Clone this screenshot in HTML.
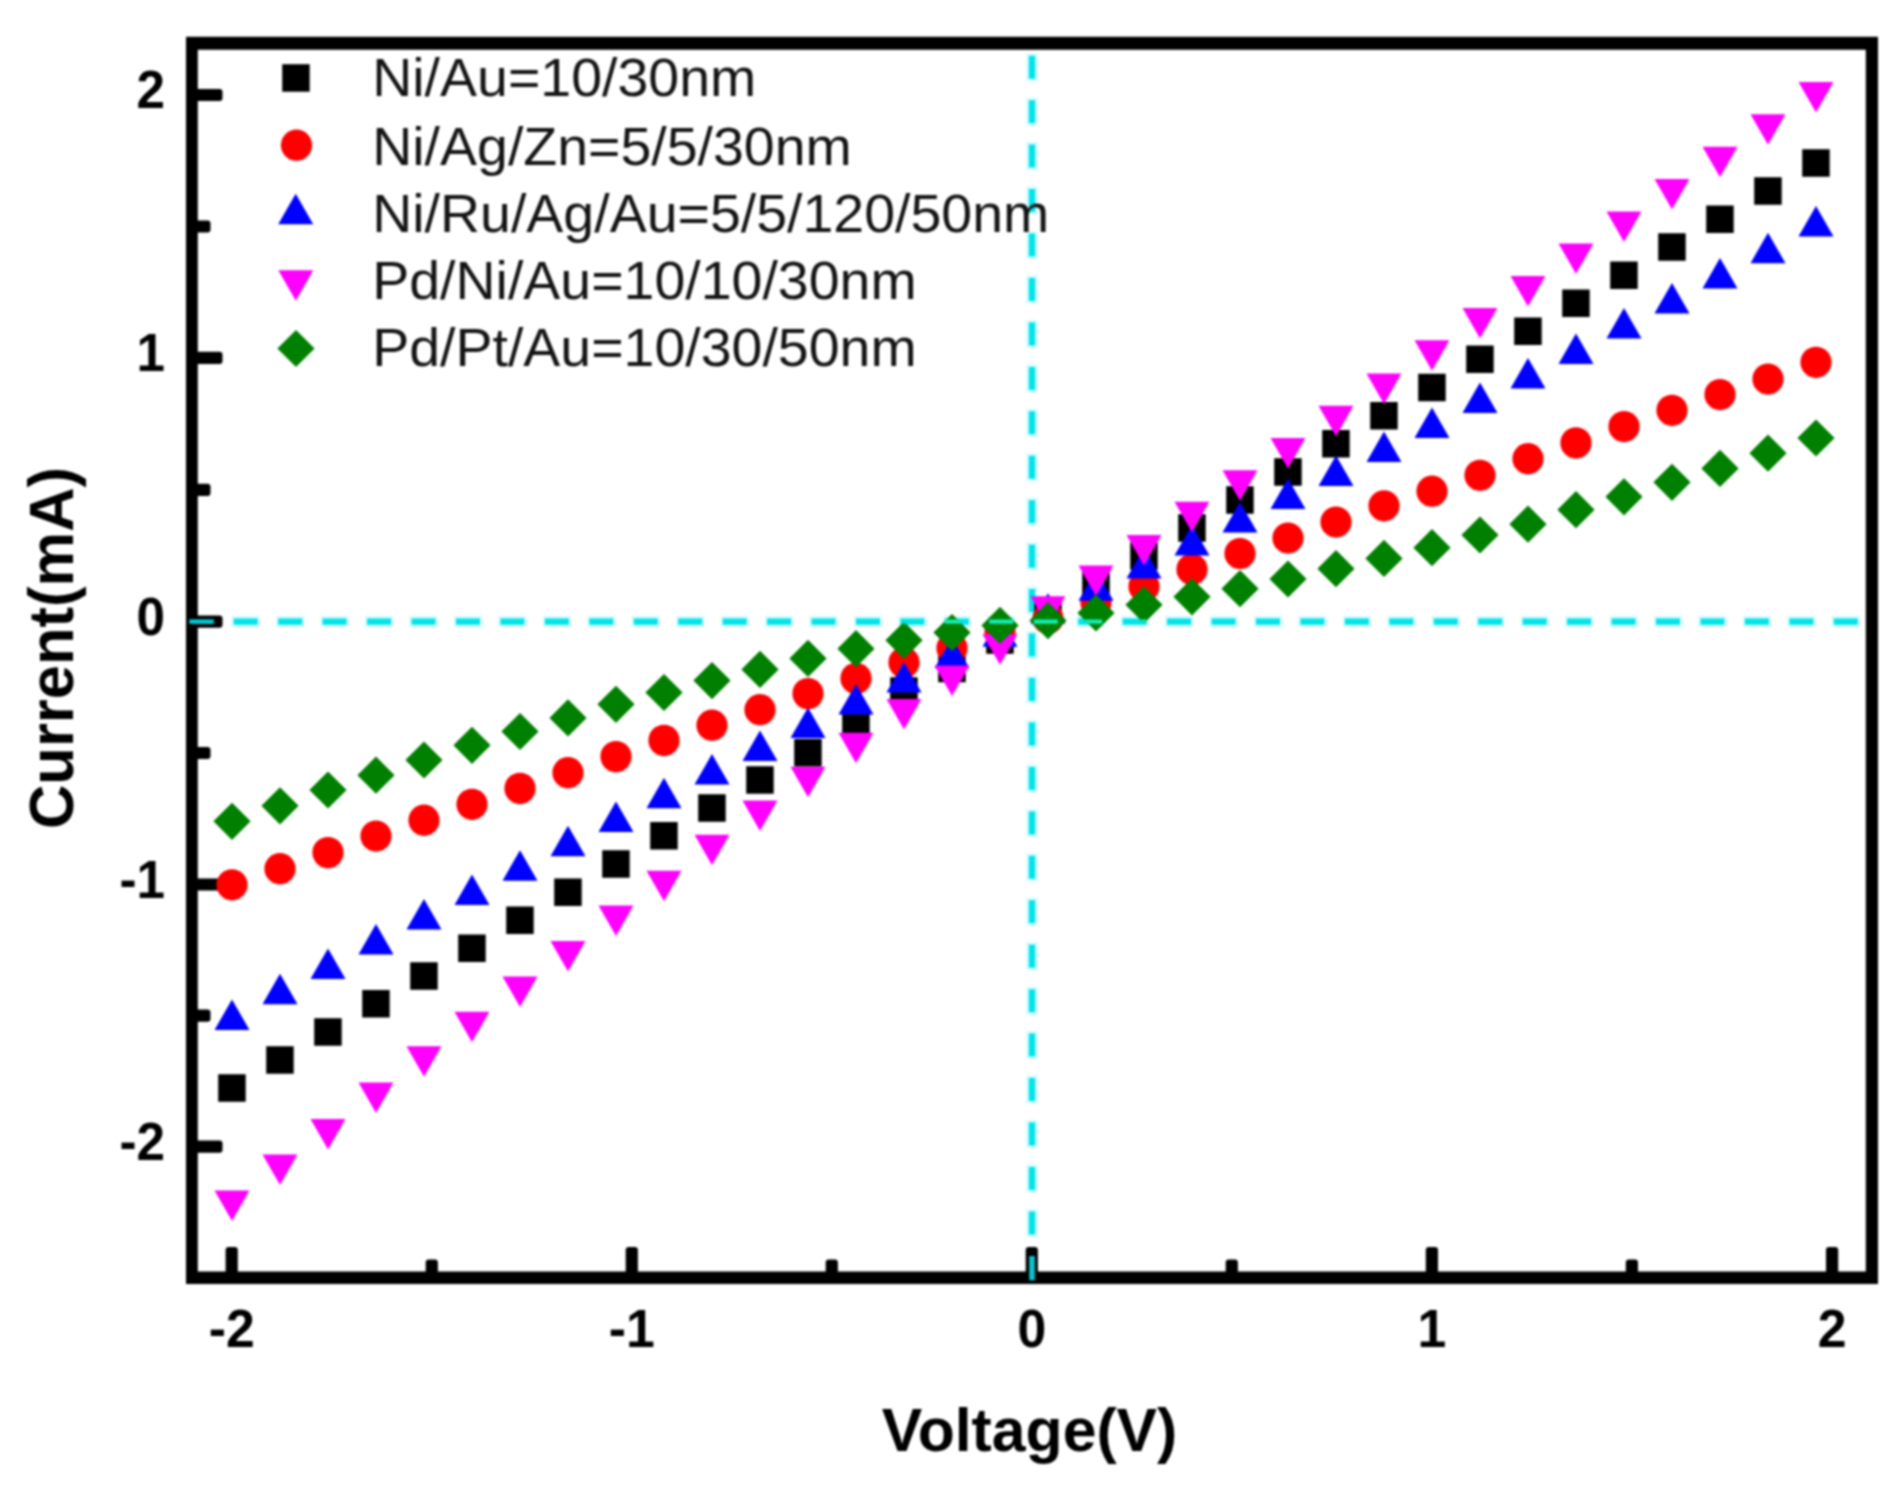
<!DOCTYPE html>
<html lang="en"><head><meta charset="utf-8"><title>I-V characteristics</title>
<style>
html,body{margin:0;padding:0;background:#fff}
body{width:1904px;height:1488px;overflow:hidden}
svg{display:block;filter:blur(0.8px)}
text{font-family:"Liberation Sans",sans-serif}
.b{font-weight:bold;fill:#000}
.tk{font-size:54.5px}
.ti{font-size:60.7px}
.ty{font-size:61.5px}
.lg{font-size:54.3px;fill:#141414}
</style></head><body>
<svg width="1904" height="1488" viewBox="0 0 1904 1488">
<rect width="1904" height="1488" fill="#fff"/>
<path fill="#000" d="M186 36.7H1878V1284H186zM197.8 49.8V1271.6H1865.8V49.8z" fill-rule="evenodd"/>
<g fill="#000"><rect x="192" y="88.9" width="30.5" height="12.2" rx="3"/><rect x="192" y="351.8" width="30.5" height="12.2" rx="3"/><rect x="192" y="615.5" width="30.5" height="12.2" rx="3"/><rect x="192" y="878.4" width="30.5" height="12.2" rx="3"/><rect x="192" y="1140.6" width="30.5" height="12.2" rx="3"/><rect x="192" y="220.4" width="18.5" height="12.2" rx="3"/><rect x="192" y="483.7" width="18.5" height="12.2" rx="3"/><rect x="192" y="746.9" width="18.5" height="12.2" rx="3"/><rect x="192" y="1009.5" width="18.5" height="12.2" rx="3"/><rect x="225.6" y="1247" width="12.2" height="30" rx="3"/><rect x="625.7" y="1247" width="12.2" height="30" rx="3"/><rect x="1025.7" y="1247" width="12.2" height="30" rx="3"/><rect x="1425.8" y="1247" width="12.2" height="30" rx="3"/><rect x="1826" y="1247" width="12.2" height="30" rx="3"/><rect x="425.7" y="1259.5" width="12.2" height="18" rx="3"/><rect x="825.7" y="1259.5" width="12.2" height="18" rx="3"/><rect x="1225.7" y="1259.5" width="12.2" height="18" rx="3"/><rect x="1625.8" y="1259.5" width="12.2" height="18" rx="3"/></g>
<path d="M1032 53.2v28M1032 97.7v28M1032 142.1v28M1032 186.6v28M1032 231v28M1032 275.4v28M1032 319.9v28M1032 364.4v28M1032 408.8v28M1032 453.2v28M1032 497.7v28M1032 542.2v28M1032 586.6v28M1032 631.1v28M1032 675.5v28M1032 720v28M1032 764.4v28M1032 808.9v28M1032 853.3v28M1032 897.8v28M1032 942.2v28M1032 986.7v28M1032 1031.1v28M1032 1075.5v28M1032 1120v28M1032 1164.5v28M1032 1208.9v28" stroke="#d2fcfd" stroke-width="11.5" fill="none"/>
<path d="M1032 55.7v23M1032 100.2v23M1032 144.6v23M1032 189.1v23M1032 233.5v23M1032 277.9v23M1032 322.4v23M1032 366.9v23M1032 411.3v23M1032 455.8v23M1032 500.2v23M1032 544.7v23M1032 589.1v23M1032 633.6v23M1032 678v23M1032 722.5v23M1032 766.9v23M1032 811.4v23M1032 855.8v23M1032 900.3v23M1032 944.7v23M1032 989.2v23M1032 1033.6v23M1032 1078v23M1032 1122.5v23M1032 1167v23M1032 1211.4v23" stroke="#00e4ea" stroke-width="6.3" fill="none"/>
<path d="M189.3 621.6h24.5" stroke="#00c8d4" stroke-width="4.6" fill="none"/>
<path d="M231.7 621.6h28M276.2 621.6h28M320.6 621.6h28M365.1 621.6h28M409.5 621.6h28M454 621.6h28M498.4 621.6h28M542.9 621.6h28M587.3 621.6h28M631.8 621.6h28M676.2 621.6h28M720.7 621.6h28M765.1 621.6h28M809.5 621.6h28M854 621.6h28M898.4 621.6h28M942.9 621.6h28M987.3 621.6h28M1031.8 621.6h28M1076.2 621.6h28M1120.7 621.6h28M1165.1 621.6h28M1209.6 621.6h28M1254 621.6h28M1298.4 621.6h28M1342.9 621.6h28M1387.3 621.6h28M1431.8 621.6h28M1476.2 621.6h28M1520.7 621.6h28M1565.1 621.6h28M1609.6 621.6h28M1654 621.6h28M1698.5 621.6h28M1742.9 621.6h28M1787.4 621.6h28M1831.8 621.6h28" stroke="#d2fcfd" stroke-width="11.5" fill="none"/>
<path d="M233.7 621.6h24M278.2 621.6h24M322.6 621.6h24M367.1 621.6h24M411.5 621.6h24M456 621.6h24M500.4 621.6h24M544.9 621.6h24M589.3 621.6h24M633.8 621.6h24M678.2 621.6h24M722.7 621.6h24M767.1 621.6h24M811.5 621.6h24M856 621.6h24M900.4 621.6h24M944.9 621.6h24M989.3 621.6h24M1033.8 621.6h24M1078.2 621.6h24M1122.7 621.6h24M1167.1 621.6h24M1211.6 621.6h24M1256 621.6h24M1300.4 621.6h24M1344.9 621.6h24M1389.3 621.6h24M1433.8 621.6h24M1478.2 621.6h24M1522.7 621.6h24M1567.1 621.6h24M1611.6 621.6h24M1656 621.6h24M1700.5 621.6h24M1744.9 621.6h24M1789.4 621.6h24M1833.8 621.6h24" stroke="#00e4ea" stroke-width="6.3" fill="none"/>
<path fill="#000" d="M218.2 1074.2h27.5v27.5h-27.5zM266.2 1046.2h27.5v27.5h-27.5zM314.2 1018.2h27.5v27.5h-27.5zM362.2 990h27.5v27.5h-27.5zM410.2 962.2h27.5v27.5h-27.5zM458.2 934.5h27.5v27.5h-27.5zM506.2 906.5h27.5v27.5h-27.5zM554.2 878.5h27.5v27.5h-27.5zM602.2 850.2h27.5v27.5h-27.5zM650.2 822h27.5v27.5h-27.5zM698.2 794.2h27.5v27.5h-27.5zM746.2 766.2h27.5v27.5h-27.5zM794.2 738.9h27.5v27.5h-27.5zM842.2 711.2h27.5v27.5h-27.5zM890.2 677.2h27.5v27.5h-27.5zM938.2 654.8h27.5v27.5h-27.5zM986.2 626.2h27.5v27.5h-27.5zM1034.2 598.2h27.5v27.5h-27.5zM1082.2 570.2h27.5v27.5h-27.5zM1130.2 542.2h27.5v27.5h-27.5zM1178.2 514.2h27.5v27.5h-27.5zM1226.2 486.2h27.5v27.5h-27.5zM1274.2 458.2h27.5v27.5h-27.5zM1322.2 430.1h27.5v27.5h-27.5zM1370.2 402.1h27.5v27.5h-27.5zM1418.2 373.8h27.5v27.5h-27.5zM1466.2 345.6h27.5v27.5h-27.5zM1514.2 317.6h27.5v27.5h-27.5zM1562.2 289.4h27.5v27.5h-27.5zM1610.2 261.4h27.5v27.5h-27.5zM1658.2 233.3h27.5v27.5h-27.5zM1706.2 205.6h27.5v27.5h-27.5zM1754.2 177.2h27.5v27.5h-27.5zM1802.2 149.2h27.5v27.5h-27.5z"/>
<g fill="#f00"><circle cx="232" cy="884.8" r="15.6"/><circle cx="280" cy="868.7" r="15.6"/><circle cx="328" cy="852.6" r="15.6"/><circle cx="376" cy="836" r="15.6"/><circle cx="424" cy="820.2" r="15.6"/><circle cx="472" cy="804.3" r="15.6"/><circle cx="520" cy="788.4" r="15.6"/><circle cx="568" cy="772.7" r="15.6"/><circle cx="616" cy="756.6" r="15.6"/><circle cx="664" cy="740.4" r="15.6"/><circle cx="712" cy="725.2" r="15.6"/><circle cx="760" cy="709.7" r="15.6"/><circle cx="808" cy="693.6" r="15.6"/><circle cx="856" cy="678.4" r="15.6"/><circle cx="904" cy="662.6" r="15.6"/><circle cx="952" cy="648" r="15.6"/><circle cx="1000" cy="632" r="15.6"/><circle cx="1048" cy="618.5" r="15.6"/><circle cx="1096" cy="602.5" r="15.6"/><circle cx="1144" cy="586.5" r="15.6"/><circle cx="1192" cy="569.4" r="15.6"/><circle cx="1240" cy="553.5" r="15.6"/><circle cx="1288" cy="538" r="15.6"/><circle cx="1336" cy="522" r="15.6"/><circle cx="1384" cy="505.8" r="15.6"/><circle cx="1432" cy="491.2" r="15.6"/><circle cx="1480" cy="475.3" r="15.6"/><circle cx="1528" cy="458.7" r="15.6"/><circle cx="1576" cy="442.9" r="15.6"/><circle cx="1624" cy="426.5" r="15.6"/><circle cx="1672" cy="410.3" r="15.6"/><circle cx="1720" cy="394.5" r="15.6"/><circle cx="1768" cy="379" r="15.6"/><circle cx="1816" cy="362.3" r="15.6"/></g>
<path fill="#00f" d="M232 999.5l17.5 30.5h-35zM280 973.8l17.5 30.5h-35zM328 948.6l17.5 30.5h-35zM376 924l17.5 30.5h-35zM424 899l17.5 30.5h-35zM472 874.5l17.5 30.5h-35zM520 850.2l17.5 30.5h-35zM568 825.8l17.5 30.5h-35zM616 801.5l17.5 30.5h-35zM664 777.8l17.5 30.5h-35zM712 754.1l17.5 30.5h-35zM760 730.5l17.5 30.5h-35zM808 707.4l17.5 30.5h-35zM856 684.1l17.5 30.5h-35zM904 661.9l17.5 30.5h-35zM952 637.8l17.5 30.5h-35zM1000 616.2l17.5 30.5h-35zM1048 593.2l17.5 30.5h-35zM1096 570.2l17.5 30.5h-35zM1144 548l17.5 30.5h-35zM1192 525l17.5 30.5h-35zM1240 502.1l17.5 30.5h-35zM1288 478.4l17.5 30.5h-35zM1336 455.4l17.5 30.5h-35zM1384 431.6l17.5 30.5h-35zM1432 407.4l17.5 30.5h-35zM1480 382.6l17.5 30.5h-35zM1528 357.9l17.5 30.5h-35zM1576 333.4l17.5 30.5h-35zM1624 307.9l17.5 30.5h-35zM1672 283.1l17.5 30.5h-35zM1720 257.9l17.5 30.5h-35zM1768 232.8l17.5 30.5h-35zM1816 206.1l17.5 30.5h-35z"/>
<path fill="#f0f" d="M232 1221l17.5 -30.5h-35zM280 1185l17.5 -30.5h-35zM328 1149.5l17.5 -30.5h-35zM376 1113l17.5 -30.5h-35zM424 1076.8l17.5 -30.5h-35zM472 1042.3l17.5 -30.5h-35zM520 1006.9l17.5 -30.5h-35zM568 971.4l17.5 -30.5h-35zM616 935.9l17.5 -30.5h-35zM664 901.2l17.5 -30.5h-35zM712 865.2l17.5 -30.5h-35zM760 831l17.5 -30.5h-35zM808 797.2l17.5 -30.5h-35zM856 763.2l17.5 -30.5h-35zM904 729.5l17.5 -30.5h-35zM952 696l17.5 -30.5h-35zM1000 664.8l17.5 -30.5h-35zM1048 626.8l17.5 -30.5h-35zM1096 596l17.5 -30.5h-35zM1144 565.5l17.5 -30.5h-35zM1192 532.2l17.5 -30.5h-35zM1240 500.8l17.5 -30.5h-35zM1288 468.4l17.5 -30.5h-35zM1336 436.2l17.5 -30.5h-35zM1384 403.9l17.5 -30.5h-35zM1432 370.8l17.5 -30.5h-35zM1480 338.6l17.5 -30.5h-35zM1528 306.6l17.5 -30.5h-35zM1576 273.9l17.5 -30.5h-35zM1624 242.1l17.5 -30.5h-35zM1672 209.4l17.5 -30.5h-35zM1720 177.2l17.5 -30.5h-35zM1768 144.7l17.5 -30.5h-35zM1816 112.5l17.5 -30.5h-35z"/>
<path fill="#008000" d="M232 802.7l18.6 18.6l-18.6 18.6l-18.6 -18.6zM280 787.2l18.6 18.6l-18.6 18.6l-18.6 -18.6zM328 771.4l18.6 18.6l-18.6 18.6l-18.6 -18.6zM376 756.6l18.6 18.6l-18.6 18.6l-18.6 -18.6zM424 741.4l18.6 18.6l-18.6 18.6l-18.6 -18.6zM472 726.7l18.6 18.6l-18.6 18.6l-18.6 -18.6zM520 712.9l18.6 18.6l-18.6 18.6l-18.6 -18.6zM568 699.3l18.6 18.6l-18.6 18.6l-18.6 -18.6zM616 685.7l18.6 18.6l-18.6 18.6l-18.6 -18.6zM664 673.9l18.6 18.6l-18.6 18.6l-18.6 -18.6zM712 662l18.6 18.6l-18.6 18.6l-18.6 -18.6zM760 650.8l18.6 18.6l-18.6 18.6l-18.6 -18.6zM808 639.8l18.6 18.6l-18.6 18.6l-18.6 -18.6zM856 630.1l18.6 18.6l-18.6 18.6l-18.6 -18.6zM904 621.7l18.6 18.6l-18.6 18.6l-18.6 -18.6zM952 614l18.6 18.6l-18.6 18.6l-18.6 -18.6zM1000 606.8l18.6 18.6l-18.6 18.6l-18.6 -18.6zM1048 602l18.6 18.6l-18.6 18.6l-18.6 -18.6zM1096 594.4l18.6 18.6l-18.6 18.6l-18.6 -18.6zM1144 586.2l18.6 18.6l-18.6 18.6l-18.6 -18.6zM1192 578.2l18.6 18.6l-18.6 18.6l-18.6 -18.6zM1240 570.1l18.6 18.6l-18.6 18.6l-18.6 -18.6zM1288 560.4l18.6 18.6l-18.6 18.6l-18.6 -18.6zM1336 550.1l18.6 18.6l-18.6 18.6l-18.6 -18.6zM1384 539.8l18.6 18.6l-18.6 18.6l-18.6 -18.6zM1432 529.1l18.6 18.6l-18.6 18.6l-18.6 -18.6zM1480 516.4l18.6 18.6l-18.6 18.6l-18.6 -18.6zM1528 505.6l18.6 18.6l-18.6 18.6l-18.6 -18.6zM1576 491.1l18.6 18.6l-18.6 18.6l-18.6 -18.6zM1624 478.2l18.6 18.6l-18.6 18.6l-18.6 -18.6zM1672 463.7l18.6 18.6l-18.6 18.6l-18.6 -18.6zM1720 449.8l18.6 18.6l-18.6 18.6l-18.6 -18.6zM1768 434.6l18.6 18.6l-18.6 18.6l-18.6 -18.6zM1816 419.4l18.6 18.6l-18.6 18.6l-18.6 -18.6z"/>
<clipPath id="gd"><path d="M232 802.7l18.6 18.6l-18.6 18.6l-18.6 -18.6zM280 787.2l18.6 18.6l-18.6 18.6l-18.6 -18.6zM328 771.4l18.6 18.6l-18.6 18.6l-18.6 -18.6zM376 756.6l18.6 18.6l-18.6 18.6l-18.6 -18.6zM424 741.4l18.6 18.6l-18.6 18.6l-18.6 -18.6zM472 726.7l18.6 18.6l-18.6 18.6l-18.6 -18.6zM520 712.9l18.6 18.6l-18.6 18.6l-18.6 -18.6zM568 699.3l18.6 18.6l-18.6 18.6l-18.6 -18.6zM616 685.7l18.6 18.6l-18.6 18.6l-18.6 -18.6zM664 673.9l18.6 18.6l-18.6 18.6l-18.6 -18.6zM712 662l18.6 18.6l-18.6 18.6l-18.6 -18.6zM760 650.8l18.6 18.6l-18.6 18.6l-18.6 -18.6zM808 639.8l18.6 18.6l-18.6 18.6l-18.6 -18.6zM856 630.1l18.6 18.6l-18.6 18.6l-18.6 -18.6zM904 621.7l18.6 18.6l-18.6 18.6l-18.6 -18.6zM952 614l18.6 18.6l-18.6 18.6l-18.6 -18.6zM1000 606.8l18.6 18.6l-18.6 18.6l-18.6 -18.6zM1048 602l18.6 18.6l-18.6 18.6l-18.6 -18.6zM1096 594.4l18.6 18.6l-18.6 18.6l-18.6 -18.6zM1144 586.2l18.6 18.6l-18.6 18.6l-18.6 -18.6zM1192 578.2l18.6 18.6l-18.6 18.6l-18.6 -18.6zM1240 570.1l18.6 18.6l-18.6 18.6l-18.6 -18.6zM1288 560.4l18.6 18.6l-18.6 18.6l-18.6 -18.6zM1336 550.1l18.6 18.6l-18.6 18.6l-18.6 -18.6zM1384 539.8l18.6 18.6l-18.6 18.6l-18.6 -18.6zM1432 529.1l18.6 18.6l-18.6 18.6l-18.6 -18.6zM1480 516.4l18.6 18.6l-18.6 18.6l-18.6 -18.6zM1528 505.6l18.6 18.6l-18.6 18.6l-18.6 -18.6zM1576 491.1l18.6 18.6l-18.6 18.6l-18.6 -18.6zM1624 478.2l18.6 18.6l-18.6 18.6l-18.6 -18.6zM1672 463.7l18.6 18.6l-18.6 18.6l-18.6 -18.6zM1720 449.8l18.6 18.6l-18.6 18.6l-18.6 -18.6zM1768 434.6l18.6 18.6l-18.6 18.6l-18.6 -18.6zM1816 419.4l18.6 18.6l-18.6 18.6l-18.6 -18.6z"/></clipPath>
<path d="M233.7 621.6h24M278.2 621.6h24M322.6 621.6h24M367.1 621.6h24M411.5 621.6h24M456 621.6h24M500.4 621.6h24M544.9 621.6h24M589.3 621.6h24M633.8 621.6h24M678.2 621.6h24M722.7 621.6h24M767.1 621.6h24M811.5 621.6h24M856 621.6h24M900.4 621.6h24M944.9 621.6h24M989.3 621.6h24M1033.8 621.6h24M1078.2 621.6h24M1122.7 621.6h24M1167.1 621.6h24M1211.6 621.6h24M1256 621.6h24M1300.4 621.6h24M1344.9 621.6h24M1389.3 621.6h24M1433.8 621.6h24M1478.2 621.6h24M1522.7 621.6h24M1567.1 621.6h24M1611.6 621.6h24M1656 621.6h24M1700.5 621.6h24M1744.9 621.6h24M1789.4 621.6h24M1833.8 621.6h24" stroke="#14eeb4" stroke-width="4.2" fill="none" clip-path="url(#gd)"/>
<path d="M1032 1256v24.3" stroke="#0cc2ce" stroke-width="5.6" fill="none"/>
<text class="b tk" transform="translate(165 108) scale(0.94 1)" text-anchor="end">2</text>
<text class="b tk" transform="translate(165 370.9) scale(0.94 1)" text-anchor="end">1</text>
<text class="b tk" transform="translate(165 634.6) scale(0.94 1)" text-anchor="end">0</text>
<text class="b tk" transform="translate(165 897.5) scale(0.94 1)" text-anchor="end">-1</text>
<text class="b tk" transform="translate(165 1159.7) scale(0.94 1)" text-anchor="end">-2</text>
<text class="b tk" transform="translate(231.7 1347) scale(0.95 1)" text-anchor="middle">-2</text>
<text class="b tk" transform="translate(631.8 1347) scale(0.95 1)" text-anchor="middle">-1</text>
<text class="b tk" transform="translate(1031.8 1347) scale(0.95 1)" text-anchor="middle">0</text>
<text class="b tk" transform="translate(1431.9 1347) scale(0.95 1)" text-anchor="middle">1</text>
<text class="b tk" transform="translate(1832.1 1347) scale(0.95 1)" text-anchor="middle">2</text>
<text class="b ti" x="1029.5" y="1450.5" text-anchor="middle">Voltage(V)</text>
<text class="b ty" transform="translate(73 648) rotate(-90) scale(1 1.035)" text-anchor="middle">Current(mA)</text>
<path fill="#000" d="M282.2 64.2h27.5v27.5h-27.5z"/><g fill="#f00"><circle cx="296.5" cy="145.2" r="15.6"/></g><path fill="#00f" d="M295.7 193.8l17.5 30.5h-35z"/><path fill="#f0f" d="M295.8 300.8l17.5 -30.5h-35z"/><path fill="#008000" d="M296 329.9l18.6 18.6l-18.6 18.6l-18.6 -18.6z"/>
<text class="lg" transform="translate(372.2 96.3) scale(1.022 1)">Ni/Au=10/30nm</text>
<text class="lg" transform="translate(372.2 164.6) scale(1.022 1)">Ni/Ag/Zn=5/5/30nm</text>
<text class="lg" transform="translate(372.2 232) scale(1.022 1)">Ni/Ru/Ag/Au=5/5/120/50nm</text>
<text class="lg" transform="translate(372.2 298.8) scale(1.022 1)">Pd/Ni/Au=10/10/30nm</text>
<text class="lg" transform="translate(372.2 366.3) scale(1.022 1)">Pd/Pt/Au=10/30/50nm</text>
</svg>
</body></html>
